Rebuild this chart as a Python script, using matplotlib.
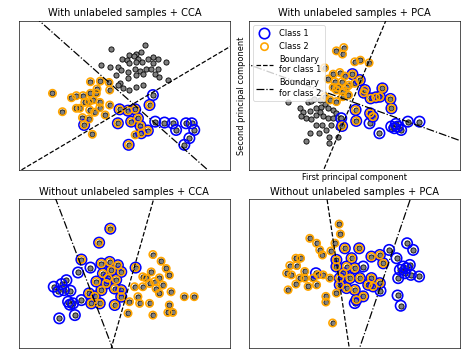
import numpy as np
from matplotlib import pyplot as plt

# %% data (axes span 0..10 on both sides)
titles = ['With unlabeled samples + CCA', 'With unlabeled samples + PCA',
          'Without unlabeled samples + CCA', 'Without unlabeled samples + PCA']

# unlabeled samples (gray only), top row
unl_cca = [(5.98, 8.39), (4.38, 8.12), (5.56, 7.83), (5.80, 7.90), (5.21, 7.72),
           (5.45, 7.65), (6.35, 7.61), (4.90, 7.45), (5.12, 7.38), (5.64, 7.43),
           (6.11, 7.49), (6.58, 7.45), (3.91, 7.05), (4.30, 6.94), (4.69, 6.94),
           (5.24, 7.16), (5.56, 7.27), (5.84, 7.27), (6.35, 7.16), (6.98, 7.27),
           (4.85, 6.71), (5.17, 6.60), (5.48, 6.82), (5.72, 6.64), (6.03, 6.82),
           (6.27, 6.76), (6.58, 6.82), (4.61, 6.38), (5.56, 6.38), (5.87, 6.42),
           (6.43, 6.42), (6.66, 6.26), (5.17, 6.15), (4.77, 5.82), (7.06, 6.04),
           (4.93, 5.48), (5.56, 5.59), (5.24, 5.37), (5.87, 5.70), (4.69, 5.70)]
unl_pca = [(1.85, 4.54), (2.43, 4.18), (2.80, 4.59), (2.95, 4.63), (3.11, 4.77),
           (3.35, 4.70), (2.56, 3.87), (2.88, 3.96), (3.19, 4.18), (3.43, 4.25),
           (3.59, 4.41), (3.74, 4.14), (2.72, 3.51), (2.95, 3.42), (3.16, 3.69),
           (3.35, 3.91), (3.51, 3.65), (2.48, 3.65), (3.98, 4.03), (3.74, 3.47),
           (3.98, 3.51), (4.14, 3.80), (3.19, 3.02), (3.48, 3.02), (3.90, 3.02),
           (3.67, 2.68), (4.22, 2.91), (2.88, 2.46), (3.32, 2.46), (3.82, 2.24),
           (2.72, 1.95), (3.79, 1.79), (4.22, 2.24), (4.30, 3.47)]

# class 1 only
c1_cca = [(6.35, 5.03), (6.46, 3.24), (6.90, 3.18), (7.29, 3.13), (7.45, 2.68),
          (7.92, 3.13), (8.19, 3.13), (8.31, 2.68), (8.08, 2.13), (7.84, 1.68)]
c1_pca = [(5.72, 3.13), (6.19, 2.46), (6.75, 2.91), (6.90, 2.80), (7.06, 2.91),
          (7.22, 2.68), (7.54, 3.24), (8.09, 3.24), (4.38, 3.47), (6.97, 3.09)]
c1_cca_lab = [(3.39, 5.41), (2.80, 5.08), (1.65, 4.12), (2.25, 4.56), (2.02, 4.30),
              (2.13, 3.89), (2.44, 3.85), (2.57, 3.00), (2.33, 3.11), (2.96, 3.22),
              (2.65, 2.21), (1.91, 1.99), (2.41, 2.91), (1.86, 3.80)]
c1_pca_lab = [(7.50, 7.05), (7.79, 6.60), (7.00, 6.04), (6.65, 6.60), (7.31, 5.48),
              (7.63, 5.59), (8.07, 4.81), (7.08, 4.70), (7.68, 4.92), (7.05, 3.53),
              (7.20, 2.84), (5.02, 3.02), (5.42, 5.48), (3.18, 5.03), (6.24, 3.85),
              (7.16, 5.26), (7.47, 5.37), (7.39, 5.03)]

# class 2 only
c2_cca = [(1.59, 5.15), (2.06, 3.91), (2.49, 4.85), (2.72, 4.99), (3.04, 4.99),
          (3.39, 5.93), (3.86, 5.97), (4.27, 5.88), (3.70, 5.44), (3.39, 5.15),
          (3.67, 5.15), (4.30, 5.37), (2.88, 4.14), (3.12, 4.54), (3.32, 4.59),
          (3.51, 4.70), (3.83, 4.54), (4.30, 4.36), (3.59, 3.87), (4.09, 3.69),
          (3.01, 3.51), (3.32, 3.42), (3.48, 2.39), (2.72, 4.14), (3.83, 4.18),
          (3.35, 4.03), (5.51, 2.35)]
c2_pca = [(4.15, 8.01), (4.50, 8.23), (4.44, 7.79), (5.02, 7.27), (5.29, 7.38),
          (3.59, 6.87), (4.00, 6.44), (4.31, 6.55), (4.55, 6.31), (4.08, 5.93),
          (4.41, 5.93), (4.74, 5.70), (5.02, 5.82), (4.15, 5.37), (4.47, 5.26),
          (4.72, 5.03), (3.60, 4.92), (3.84, 4.70), (4.15, 4.59), (3.76, 6.11),
          (4.23, 5.55), (4.63, 5.55), (4.00, 5.55), (4.44, 4.92), (5.70, 7.20)]
c2_cca_lab = [(6.35, 6.29), (6.74, 5.84), (6.98, 5.35), (7.13, 4.90), (6.27, 5.12),
              (6.66, 4.72), (5.87, 4.79), (5.48, 4.12), (5.87, 4.12), (6.19, 4.34),
              (6.50, 4.00), (6.82, 4.23), (6.66, 3.67), (7.21, 3.78), (7.84, 3.45),
              (8.31, 3.45), (5.64, 3.45), (6.19, 3.00), (7.13, 2.89), (5.24, 3.11),
              (5.72, 3.00), (7.06, 2.39), (7.29, 2.39), (6.35, 2.21), (5.17, 2.33),
              (6.03, 4.70), (6.43, 4.47)]
c2_pca_lab = [(4.28, 8.34), (4.34, 7.67), (2.89, 7.38), (3.21, 7.05), (3.36, 6.60),
              (3.49, 6.26), (3.89, 6.53), (4.08, 7.05), (2.23, 6.04), (2.45, 6.04),
              (1.94, 5.55), (2.26, 5.55), (1.79, 5.03), (2.02, 4.92), (1.86, 3.91),
              (2.23, 4.30), (2.65, 4.70), (2.81, 4.14), (3.05, 4.70), (3.29, 4.92),
              (3.52, 4.92), (3.84, 4.70), (3.65, 3.47), (3.65, 3.09), (3.97, 1.68),
              (4.15, 3.69), (2.65, 5.15), (3.21, 4.25), (2.42, 4.70)]

# both classes
both_cca = [(4.77, 4.07), (5.17, 3.98), (5.51, 4.07), (4.69, 3.13), (5.32, 3.24),
            (5.64, 3.47), (5.76, 2.95), (5.80, 2.46), (6.11, 2.64), (5.20, 1.68),
            (6.19, 4.36), (3.09, 3.02)]
both_pca = [(4.91, 6.44), (5.26, 6.04), (5.45, 5.19), (5.77, 4.81), (6.02, 4.88),
            (6.21, 4.92), (6.33, 5.48), (6.71, 4.77), (6.76, 4.14), (5.06, 4.03),
            (5.09, 3.29), (5.75, 3.80), (5.88, 3.58), (4.42, 2.95), (5.50, 5.37)]
both_cca_lab = [(4.33, 8.03), (3.80, 7.09), (2.96, 5.95), (3.32, 3.67), (3.43, 3.00),
                (3.83, 3.00), (3.91, 5.68), (4.30, 5.79), (4.69, 5.57), (3.98, 5.01),
                (4.38, 5.23), (4.85, 5.12), (3.91, 3.89), (4.14, 4.34), (4.54, 4.00),
                (4.85, 3.45), (4.54, 2.89), (4.85, 3.89), (5.53, 5.41), (3.67, 4.47),
                (4.22, 4.70), (4.61, 4.59), (3.59, 3.47)]
both_pca_lab = [(4.55, 6.71), (5.23, 6.71), (4.87, 6.04), (4.15, 5.48), (4.63, 5.48),
                (5.02, 5.37), (5.81, 6.15), (6.21, 6.26), (6.37, 5.70), (4.31, 4.70),
                (4.79, 4.70), (5.26, 4.70), (5.81, 4.70), (6.21, 4.36), (4.63, 4.03),
                (5.02, 3.91), (5.42, 3.47), (5.66, 4.25), (5.89, 4.14), (4.31, 4.25),
                (4.15, 5.93), (4.47, 5.03), (5.10, 3.24)]

# boundaries as (slope, intercept): class 1 ('--'), class 2 ('-.')
bound1 = [(0.84, -0.11), (3.41, -12.1), (5.0, -21.9), (-9.52, 45.3)]
bound2 = [(-1.258, 11.25), (-0.511, 7.08), (-3.73, 16.53), (4.17, -21.9)]

panels = [(unl_cca, c1_cca, c2_cca, both_cca),
          (unl_pca, c1_pca, c2_pca, both_pca),
          ([], c1_cca_lab, c2_cca_lab, both_cca_lab),
          ([], c1_pca_lab, c2_pca_lab, both_pca_lab)]

# %% plot
fig = plt.figure(figsize=(474 / 59.25, 355 / 59.25), dpi=59.25)
xx = np.linspace(-5, 15, 200)
for i, (unl, c1, c2, both) in enumerate(panels):
    ax = plt.subplot(2, 2, i + 1)
    X = np.array(unl + c1 + c2 + both)
    cls1 = np.array(c1 + both)
    cls2 = np.array(c2 + both)
    ax.scatter(X[:, 0], X[:, 1], s=40, c='gray', edgecolors=(0, 0, 0))
    ax.scatter(cls1[:, 0], cls1[:, 1], s=160, edgecolors='b',
               facecolors='none', linewidths=2, label='Class 1')
    ax.scatter(cls2[:, 0], cls2[:, 1], s=80, edgecolors='orange',
               facecolors='none', linewidths=2, label='Class 2')
    a, b = bound1[i]
    ax.plot(xx, a * xx + b, 'k--', label='Boundary\nfor class 1')
    a, b = bound2[i]
    ax.plot(xx, a * xx + b, 'k-.', label='Boundary\nfor class 2')
    ax.set_xlim(0, 10)
    ax.set_ylim(0, 10)
    ax.set_xticks(())
    ax.set_yticks(())
    ax.set_title(titles[i])
    if i == 1:
        ax.set_xlabel('First principal component')
        ax.set_ylabel('Second principal component')
        ax.legend(loc='upper left')

plt.subplots_adjust(.04, .02, .97, .94, .09, .2)
plt.savefig('out.png', dpi=59.25)
